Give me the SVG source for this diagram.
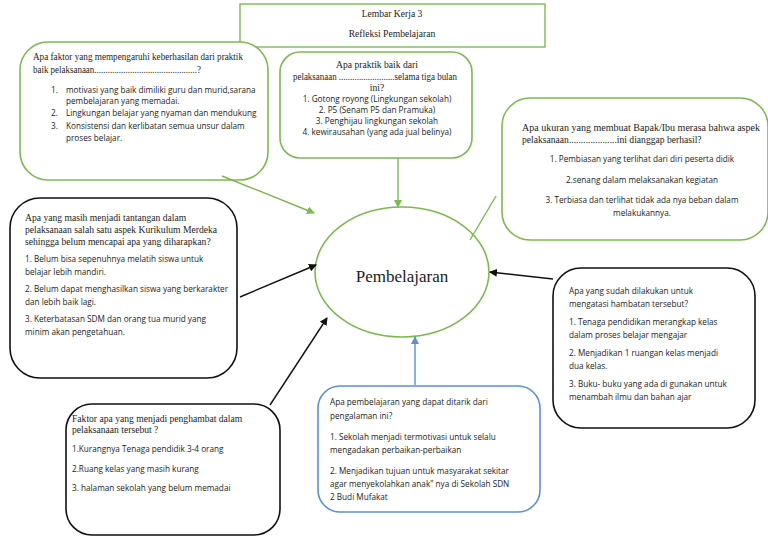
<svg xmlns="http://www.w3.org/2000/svg" width="768" height="543" viewBox="0 0 768 543">
<style>
.s{font-family:"Liberation Serif",serif;font-size:9.6px;fill:#222}
.a{font-family:"Open Sans","Noto Sans",sans-serif;font-size:8.2px;fill:#222}
.g{fill:#fff;stroke:#7cba4f;stroke-width:1.6}
.k{fill:#fff;stroke:#111;stroke-width:1.6}
.b{fill:#fff;stroke:#5b8fd9;stroke-width:1.6}
</style>
<defs>
<marker id="mg" markerWidth="8" markerHeight="8" refX="7" refY="4" orient="auto" markerUnits="userSpaceOnUse"><path d="M0,0L8,4L0,8z" fill="#7cba4f"/></marker>
<marker id="mk" markerWidth="8" markerHeight="8" refX="7" refY="4" orient="auto" markerUnits="userSpaceOnUse"><path d="M0,0L8,4L0,8z" fill="#111"/></marker>
<marker id="mb" markerWidth="8" markerHeight="8" refX="7" refY="4" orient="auto" markerUnits="userSpaceOnUse"><path d="M0,0L8,4L0,8z" fill="#5b8fd9"/></marker>
</defs>
<rect width="768" height="543" fill="#fff"/>
<g id="title"><rect x="240" y="4" width="305" height="43" fill="#fff" stroke="#7cba4f" stroke-width="1.4"/>
<text class="s" x="392" y="17" text-anchor="middle">Lembar Kerja 3</text>
<text class="s" x="392" y="37" text-anchor="middle">Refleksi Pembelajaran</text></g>
<g id="n1"><rect class="g" x="20" y="42" width="248" height="138" rx="28"/>
<text class="s" x="33" y="60" textLength="210" lengthAdjust="spacingAndGlyphs">Apa faktor yang mempengaruhi keberhasilan dari praktik</text>
<text class="s" x="33" y="73" textLength="168" lengthAdjust="spacingAndGlyphs">baik pelaksanaan..............................................?</text>
<text class="a" x="51" y="93">1.</text><text class="a" x="66" y="93">motivasi yang baik dimiliki guru dan murid,sarana</text>
<text class="a" x="66" y="104">pembelajaran yang memadai.</text>
<text class="a" x="51" y="116">2.</text><text class="a" x="66" y="116">Lingkungan belajar yang nyaman dan mendukung</text>
<text class="a" x="51" y="129">3.</text><text class="a" x="66" y="129">Konsistensi dan kerlibatan semua unsur dalam</text>
<text class="a" x="66" y="141">proses belajar.</text></g>
<g id="n2"><rect class="g" x="280" y="52" width="192" height="106" rx="20"/>
<text class="s" text-anchor="middle" x="377" y="68">Apa praktik baik dari</text>
<text class="s" text-anchor="middle" x="375" y="80" textLength="164" lengthAdjust="spacingAndGlyphs">pelaksanaan .........................selama tiga bulan</text>
<text class="s" text-anchor="middle" x="377" y="91">ini?</text>
<text class="a" text-anchor="middle" x="377" y="102">1. Gotong royong (Lingkungan sekolah)</text>
<text class="a" text-anchor="middle" x="377" y="113">2. P5 (Senam P5 dan Pramuka)</text>
<text class="a" text-anchor="middle" x="377" y="124">3. Penghijau lingkungan sekolah</text>
<text class="a" text-anchor="middle" x="377" y="135">4. kewirausahan (yang ada jual belinya)</text></g>
<g id="n3"><rect class="g" x="502" y="98" width="266" height="142" rx="28"/>
<text class="s" x="522" y="131" textLength="238" lengthAdjust="spacingAndGlyphs">Apa ukuran yang membuat Bapak/Ibu merasa bahwa aspek</text>
<text class="s" x="522" y="143">pelaksanaan....................ini dianggap berhasil?</text>
<text class="a" text-anchor="middle" x="642" y="162">1. Pembiasan yang terlihat dari diri peserta didik</text>
<text class="a" text-anchor="middle" x="642" y="183">2.senang dalam melaksanakan kegiatan</text>
<text class="a" text-anchor="middle" x="642" y="203">3. Terbiasa dan terlihat tidak ada nya beban dalam</text>
<text class="a" text-anchor="middle" x="642" y="216">melakukannya.</text></g>
<g id="n4"><rect class="k" x="10" y="198" width="227" height="180" rx="30"/>
<text class="s" x="25" y="221">Apa yang masih menjadi tantangan dalam</text>
<text class="s" x="25" y="233">pelaksanaan salah satu aspek Kurikulum Merdeka</text>
<text class="s" x="25" y="245">sehingga belum mencapai apa yang diharapkan?</text>
<text class="a" x="25" y="262">1. Belum bisa sepenuhnya melatih siswa untuk</text>
<text class="a" x="25" y="275">belajar lebih mandiri.</text>
<text class="a" x="25" y="292">2. Belum dapat menghasilkan siswa yang berkarakter</text>
<text class="a" x="25" y="305">dan lebih baik lagi.</text>
<text class="a" x="25" y="322">3. Keterbatasan SDM dan orang tua murid yang</text>
<text class="a" x="25" y="335">minim akan pengetahuan.</text></g>
<g id="center"><ellipse cx="402" cy="272" rx="87" ry="65" fill="#fff" stroke="#7cba4f" stroke-width="1.6"/>
<text x="402" y="282" text-anchor="middle" font-family="Liberation Serif,serif" font-size="17" fill="#222">Pembelajaran</text></g>
<g id="n5"><rect class="k" x="553" y="268" width="202" height="160" rx="28"/>
<text class="a" x="569" y="294">Apa yang sudah dilakukan untuk</text>
<text class="a" x="569" y="307">mengatasi hambatan tersebut?</text>
<text class="a" x="569" y="325">1. Tenaga pendidikan merangkap kelas</text>
<text class="a" x="569" y="338">dalam proses belajar mengajar</text>
<text class="a" x="569" y="356">2. Menjadikan 1 ruangan kelas menjadi</text>
<text class="a" x="569" y="369">dua kelas.</text>
<text class="a" x="569" y="387">3. Buku- buku yang ada di gunakan untuk</text>
<text class="a" x="569" y="400">menambah ilmu dan bahan ajar</text></g>
<g id="n6"><rect class="k" x="66" y="404" width="214" height="131" rx="26"/>
<text class="s" x="72" y="422">Faktor apa yang menjadi penghambat dalam</text>
<text class="s" x="72" y="433">pelaksanaan tersebut ?</text>
<text class="a" x="72" y="452">1.Kurangnya Tenaga pendidik 3-4 orang</text>
<text class="a" x="72" y="472">2.Ruang kelas yang masih kurang</text>
<text class="a" x="72" y="491">3. halaman sekolah yang belum memadai</text></g>
<g id="n7"><rect class="b" x="318" y="386" width="222" height="126" rx="22"/>
<text class="a" x="330" y="405">Apa pembelajaran yang dapat ditarik dari</text>
<text class="a" x="330" y="419">pengalaman ini?</text>
<text class="a" x="330" y="440">1. Sekolah menjadi termotivasi untuk selalu</text>
<text class="a" x="330" y="453">mengadakan perbaikan-perbaikan</text>
<text class="a" x="330" y="474">2. Menjadikan tujuan untuk masyarakat sekitar</text>
<text class="a" x="330" y="487">agar menyekolahkan anak" nya di Sekolah SDN</text>
<text class="a" x="330" y="500">2 Budi Mufakat</text></g>
<g id="connectors" fill="none" stroke-width="1.4">
<line x1="222" y1="176" x2="314" y2="213" stroke="#7cba4f" marker-end="url(#mg)"/>
<line x1="398" y1="158" x2="398" y2="207" stroke="#7cba4f" marker-end="url(#mg)"/>
<line x1="496" y1="196" x2="470" y2="240" stroke="#7cba4f"/>
<line x1="553" y1="279" x2="490" y2="272" stroke="#111" marker-end="url(#mk)"/>
<line x1="240" y1="297" x2="316" y2="265" stroke="#111" marker-end="url(#mk)"/>
<line x1="270" y1="405" x2="327" y2="318" stroke="#111" marker-end="url(#mk)"/>
<line x1="415" y1="385" x2="415" y2="337" stroke="#5b8fd9" marker-end="url(#mb)"/>
</g>
</svg>
